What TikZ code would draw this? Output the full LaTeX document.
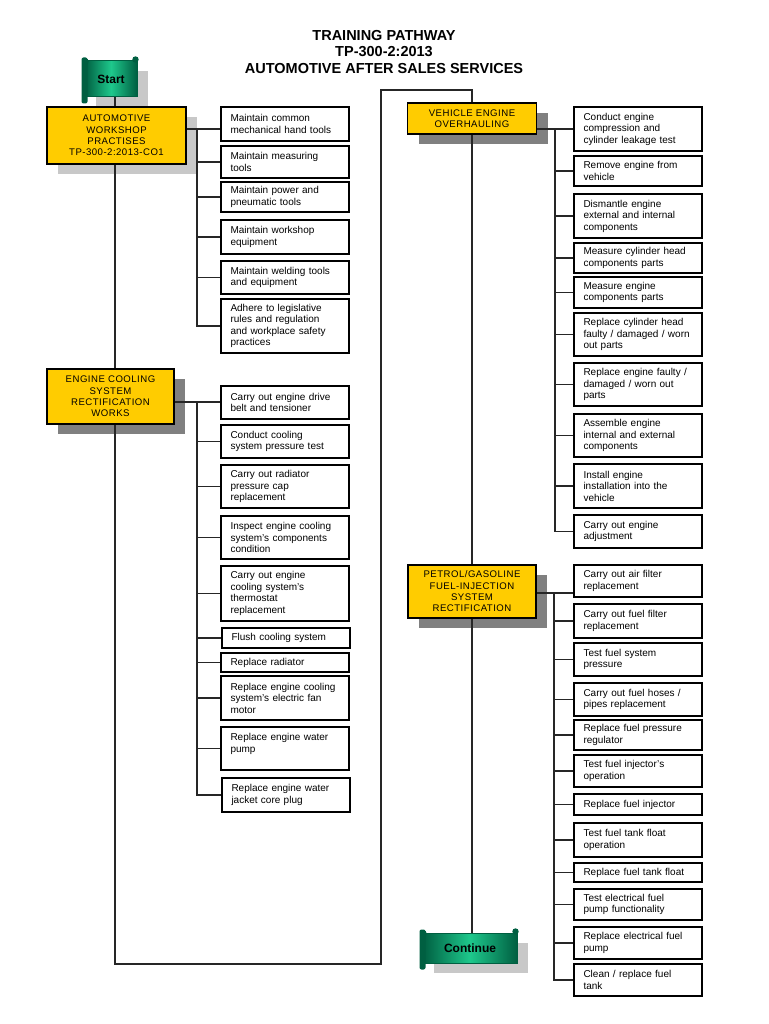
\documentclass[tikz,border=0pt]{standalone}
\usepackage{fontspec}
\setmainfont{Liberation Sans}
\usetikzlibrary{shadows,calc}
\definecolor{unitYellow}{RGB}{255,204,0}
\definecolor{scrollDark}{RGB}{0,95,65}
\definecolor{scrollLight}{RGB}{30,200,140}
\definecolor{shadowLight}{RGB}{200,200,200}
\definecolor{shadowDark}{RGB}{128,128,128}
\tikzset{
    every node/.append style={align=center},
    title/.style={font=\fontsize{14.5}{16.5}\selectfont\bfseries},
    unit/.style={rectangle,draw=black,line width=1.3pt,fill=unitYellow,inner sep=2pt,
        font=\fontsize{9.6}{11.3}\selectfont\addfontfeature{LetterSpace=5}},
    darkshadow/.style={drop shadow={shadow xshift=11pt,shadow yshift=-10pt,fill=shadowDark,opacity=1}},
    lightshadow/.style={drop shadow={shadow xshift=11pt,shadow yshift=-10pt,fill=shadowLight,opacity=1}},
    task/.style={rectangle,draw=black,line width=1.2pt,fill=white,minimum width=128pt,
        text width=109pt,inner xsep=9.5pt,inner ysep=2pt,align=left,
        font=\fontsize{10}{11.5}\selectfont},
    scroll/.style={rectangle,draw=scrollDark,line width=1pt,left color=scrollDark,
        right color=scrollDark,middle color=scrollLight,font=\fontsize{12}{14}\selectfont\bfseries},
    conn/.style={line width=1.2pt,draw=black!85}
}
% rolled ends of a scroll node
\newcommand{\scrollcurls}[1]{%
    \fill[scrollDark,rounded corners=2pt] ([xshift=-3pt,yshift=3pt]#1.north west)
        rectangle ([xshift=3pt,yshift=-6pt]#1.south west);
    \fill[scrollDark] ([xshift=-2pt,yshift=1pt]#1.north east) circle (3.2pt);
    \fill[scrollDark] ([xshift=1pt,yshift=-1pt]#1.north west) circle (3.2pt);
}

\begin{document}
\begin{tikzpicture}[x=1pt,y=-1pt]
    \useasboundingbox (0,0) rectangle (768,1024);

    \node[title] (head) at (384,52) {TRAINING PATHWAY\\TP-300-2:2013\\AUTOMOTIVE AFTER SALES SERVICES};

    % left column: start, workshop practises, cooling system
    \node[scroll,lightshadow,minimum width=52pt,minimum height=36pt] (start) at (111,79) {Start};
    \scrollcurls{start}
    \node[unit,lightshadow,minimum width=139pt,minimum height=57pt] (ws) at (116.5,135.5)
        {AUTOMOTIVE\\WORKSHOP\\PRACTISES\\TP-300-2:2013-CO1};
    \node[unit,darkshadow,minimum width=127pt,minimum height=55pt] (cool) at (110.5,396.5)
        {ENGINE COOLING\\SYSTEM\\RECTIFICATION\\WORKS};

    \node[task,minimum height=34pt] (wsA) at (285,124)   {Maintain common\\mechanical hand tools};
    \node[task,minimum height=32pt] (wsB) at (285,162)   {Maintain measuring\\tools};
    \node[task,minimum height=30pt] (wsC) at (285,197)   {Maintain power and\\pneumatic tools};
    \node[task,minimum height=34pt] (wsD) at (285,237)   {Maintain workshop\\equipment};
    \node[task,minimum height=33pt] (wsE) at (285,277.5) {Maintain welding tools\\and equipment};
    \node[task,minimum height=54pt] (wsF) at (285,326)   {Adhere to legislative\\rules and regulation\\and workplace safety\\practices};

    \node[task,minimum height=33pt] (clA) at (285,402.5) {Carry out engine drive\\belt and tensioner};
    \node[task,minimum height=33pt] (clB) at (285,441.5) {Conduct cooling\\system pressure test};
    \node[task,minimum height=43pt] (clC) at (285,486.5) {Carry out radiator\\pressure cap\\replacement};
    \node[task,minimum height=43pt] (clD) at (285,537.5) {Inspect engine cooling\\system's components\\condition};
    \node[task,minimum height=55pt] (clE) at (285,593.5) {Carry out engine\\cooling system's\\thermostat\\replacement};
    \node[task,minimum height=20pt] (clF) at (286,638)   {Flush cooling system};
    \node[task,minimum height=19pt] (clG) at (285,662.5) {Replace radiator};
    \node[task,minimum height=44pt] (clH) at (285,698)   {Replace engine cooling\\system's electric fan\\motor};
    \node[task,minimum height=43pt] (clI) at (285,748.5) {Replace engine water\\pump\\~};
    \node[task,minimum height=34pt] (clJ) at (286,795)   {Replace engine water\\jacket core plug};

    % right column: engine overhauling, fuel injection
    \node[unit,darkshadow,minimum width=129pt,minimum height=31pt] (veh) at (472,118.5)
        {VEHICLE ENGINE\\OVERHAULING};
    \node[unit,darkshadow,minimum width=128pt,minimum height=53pt] (pet) at (472,591.5)
        {PETROL/GASOLINE\\FUEL-INJECTION\\SYSTEM\\RECTIFICATION};
    \node[scroll,lightshadow,minimum width=94pt,minimum height=30pt] (cont) at (470,948) {Continue};
    \scrollcurls{cont}

    \node[task,minimum height=44pt] (veA) at (638,129)   {Conduct engine\\compression and\\cylinder leakage test};
    \node[task,minimum height=30pt] (veB) at (638,171)   {Remove engine from\\vehicle};
    \node[task,minimum height=44pt] (veC) at (638,216)   {Dismantle engine\\external and internal\\components};
    \node[task,minimum height=30pt] (veD) at (638,258)   {Measure cylinder head\\components parts};
    \node[task,minimum height=31pt] (veE) at (638,292.5) {Measure engine\\components parts};
    \node[task,minimum height=43pt] (veF) at (638,334.5) {Replace cylinder head\\faulty / damaged / worn\\out parts};
    \node[task,minimum height=43pt] (veG) at (638,384.5) {Replace engine faulty /\\damaged / worn out\\parts};
    \node[task,minimum height=43pt] (veH) at (638,435.5) {Assemble engine\\internal and external\\components};
    \node[task,minimum height=44pt] (veI) at (638,486)   {Install engine\\installation into the\\vehicle};
    \node[task,minimum height=33pt] (veJ) at (638,531.5) {Carry out engine\\adjustment};

    \node[task,minimum height=32pt] (peA) at (638,581)   {Carry out air filter\\replacement};
    \node[task,minimum height=34pt] (peB) at (638,621)   {Carry out fuel filter\\replacement};
    \node[task,minimum height=33pt] (peC) at (638,659.5) {Test fuel system\\pressure};
    \node[task,minimum height=33pt] (peD) at (638,699.5) {Carry out fuel hoses /\\pipes replacement};
    \node[task,minimum height=30pt] (peE) at (638,735)   {Replace fuel pressure\\regulator};
    \node[task,minimum height=32pt] (peF) at (638,771)   {Test fuel injector's\\operation};
    \node[task,minimum height=21pt] (peG) at (638,804.5) {Replace fuel injector};
    \node[task,minimum height=34pt] (peH) at (638,840)   {Test fuel tank float\\operation};
    \node[task,minimum height=19pt] (peI) at (638,872.5) {Replace fuel tank float};
    \node[task,minimum height=31pt] (peJ) at (638,904.5) {Test electrical fuel\\pump functionality};
    \node[task,minimum height=32pt] (peK) at (638,943)   {Replace electrical fuel\\pump};
    \node[task,minimum height=32pt] (peL) at (638,980)   {Clean / replace fuel\\tank};

    % spine from start to continue
    \coordinate (spineB) at (115,964);
    \coordinate (spineR) at (381,964);
    \coordinate (spineT) at (381,90);
    \draw[conn] (spineB |- start.south) -- (spineB |- ws.north);
    \draw[conn] (spineB |- ws.south) -- (spineB |- cool.north);
    \draw[conn] (spineB |- cool.south) -- (spineB) -- (spineR) -- (spineT) -| (veh.north);
    \draw[conn] (veh.south) -- (pet.north);
    \draw[conn] (pet.south) -- (pet.south |- cont.north);

    % workshop practises branch
    \coordinate (wsbus) at (197,129);
    \draw[conn] (ws.east |- wsbus) -- (wsA.west |- wsbus);
    \draw[conn] (wsbus) -- (wsbus |- wsF.west) -- (wsF.west);
    \draw[conn] (wsbus |- wsB.west) -- (wsB.west);
    \draw[conn] (wsbus |- wsC.west) -- (wsC.west);
    \draw[conn] (wsbus |- wsD.west) -- (wsD.west);
    \draw[conn] (wsbus |- wsE.west) -- (wsE.west);

    % cooling system branch
    \coordinate (clbus) at (197,402);
    \draw[conn] (cool.east |- clbus) -- (clA.west |- clbus);
    \draw[conn] (clbus) -- (clbus |- clJ.west) -- (clJ.west);
    \draw[conn] (clbus |- clB.west) -- (clB.west);
    \draw[conn] (clbus |- clC.west) -- (clC.west);
    \draw[conn] (clbus |- clD.west) -- (clD.west);
    \draw[conn] (clbus |- clE.west) -- (clE.west);
    \draw[conn] (clbus |- clF.west) -- (clF.west);
    \draw[conn] (clbus |- clG.west) -- (clG.west);
    \draw[conn] (clbus |- clH.west) -- (clH.west);
    \draw[conn] (clbus |- clI.west) -- (clI.west);

    % engine overhauling branch
    \coordinate (vebus) at (555,129);
    \draw[conn] (veh.east |- vebus) -- (veA.west |- vebus);
    \draw[conn] (vebus) -- (vebus |- veJ.west) -- (veJ.west);
    \draw[conn] (vebus |- veB.west) -- (veB.west);
    \draw[conn] (vebus |- veC.west) -- (veC.west);
    \draw[conn] (vebus |- veD.west) -- (veD.west);
    \draw[conn] (vebus |- veE.west) -- (veE.west);
    \draw[conn] (vebus |- veF.west) -- (veF.west);
    \draw[conn] (vebus |- veG.west) -- (veG.west);
    \draw[conn] (vebus |- veH.west) -- (veH.west);
    \draw[conn] (vebus |- veI.west) -- (veI.west);

    % fuel injection branch
    \coordinate (pebus) at (554,593);
    \draw[conn] (pet.east |- pebus) -- (peA.west |- pebus);
    \draw[conn] (pebus) -- (pebus |- peL.west) -- (peL.west);
    \draw[conn] (pebus |- peB.west) -- (peB.west);
    \draw[conn] (pebus |- peC.west) -- (peC.west);
    \draw[conn] (pebus |- peD.west) -- (peD.west);
    \draw[conn] (pebus |- peE.west) -- (peE.west);
    \draw[conn] (pebus |- peF.west) -- (peF.west);
    \draw[conn] (pebus |- peG.west) -- (peG.west);
    \draw[conn] (pebus |- peH.west) -- (peH.west);
    \draw[conn] (pebus |- peI.west) -- (peI.west);
    \draw[conn] (pebus |- peJ.west) -- (peJ.west);
    \draw[conn] (pebus |- peK.west) -- (peK.west);
\end{tikzpicture}
\end{document}
